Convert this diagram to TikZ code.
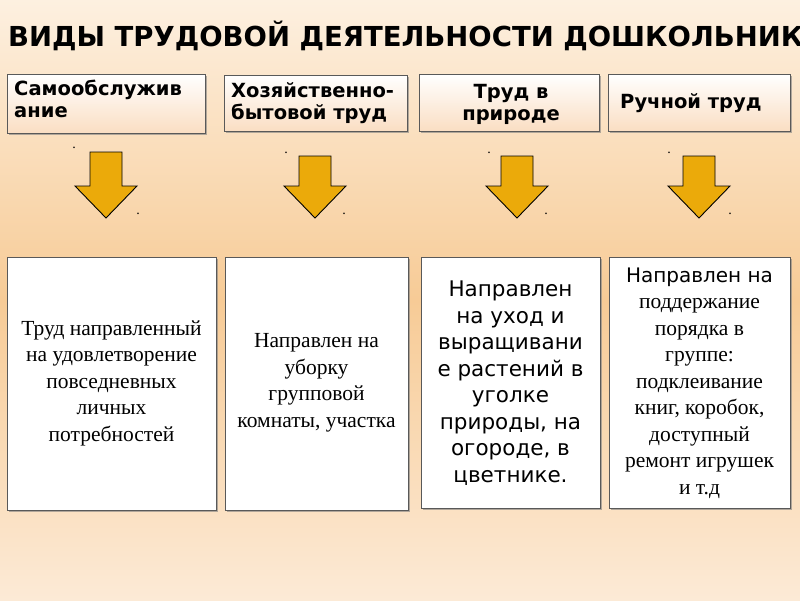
\documentclass[tikz,border=0pt]{standalone}
\usepackage{fontspec}
\setmainfont{Liberation Serif}
\newfontfamily\dvs{DejaVu Sans}
\usetikzlibrary{shadows}
\definecolor{arrowfill}{RGB}{235,170,10}
\tikzset{
 topbox/.style={draw=gray!70!black, line width=0.8pt, top color=white, bottom color={rgb,255:red,250;green,222;blue,195}, drop shadow={shadow xshift=2pt,shadow yshift=-2pt,opacity=0.6}},
 botbox/.style={draw=gray!70!black, line width=0.8pt, fill=white, drop shadow={shadow xshift=2pt,shadow yshift=-2pt,opacity=0.6}},
 toptxt/.style={font=\dvs\bfseries\fontsize{19.5}{22}\selectfont, align=left, anchor=north west, inner sep=0pt},
 bottxt/.style={font=\fontsize{21.5}{26.5}\selectfont, align=center, inner sep=0pt},
 dot/.style={font=\fontsize{14}{14}\selectfont, inner sep=0pt},
 darr/.style={draw=black, line width=0.9pt, fill=arrowfill}
}
\begin{document}
\begin{tikzpicture}[x=1pt,y=-1pt]
\clip (0,0) rectangle (800,600);
\shade[top color={rgb,255:red,253;green,240;blue,224}, bottom color={rgb,255:red,247;green,203;blue,150}] (0,0) rectangle (800,300);
\shade[top color={rgb,255:red,247;green,203;blue,150}, bottom color={rgb,255:red,252;green,234;blue,214}] (0,300) rectangle (800,600);
\node[anchor=west, font=\dvs\bfseries\fontsize{27.5}{30}\selectfont, inner sep=0pt] (title) at (8,36) {ВИДЫ ТРУДОВОЙ ДЕЯТЕЛЬНОСТИ ДОШКОЛЬНИКОВ};
% top boxes
\path[topbox] (7,74) rectangle (205,133);
\path[topbox] (224,75) rectangle (407,131);
\path[topbox] (419,74) rectangle (599,131);
\path[topbox] (608,74) rectangle (790,131);
\node[toptxt] (t1) at (14,80) {Самообслужив\\ание};
\node[toptxt] (t2) at (231,82) {Хозяйственно-\\бытовой труд};
\node[toptxt, align=center, anchor=north] (t3) at (511,84) {Труд в\\природе};
\node[toptxt, anchor=west] (t4) at (620,103) {Ручной труд};
% arrows
\foreach \cx/\ty/\n in {106/152/a1, 315/156/a2, 517/156/a3, 699/156/a4}{
  \draw[darr] (\cx-16,\ty) -- (\cx+16,\ty) -- (\cx+16,186) -- (\cx+31,186) -- (\cx,218) -- (\cx-31,186) -- (\cx-16,186) -- cycle;
}
\node[dot] (d1) at (74,148) {.};
\node[dot] (e1) at (138,214) {.};
\node[dot] (d2) at (286,153) {.};
\node[dot] (e2) at (344,214) {.};
\node[dot] (d3) at (489,153) {.};
\node[dot] (e3) at (546,214) {.};
\node[dot] (d4) at (669,153) {.};
\node[dot] (e4) at (730,214) {.};
% bottom boxes
\path[botbox] (7,257) rectangle (216,510);
\path[botbox] (225,257) rectangle (408,510);
\path[botbox] (421,257) rectangle (600,508);
\path[botbox] (609,257) rectangle (790,508);
\node[bottxt] (b1) at (111.5,383) {Труд направленный\\на удовлетворение\\повседневных\\личных\\потребностей};
\node[bottxt] (b2) at (316.5,383) {Направлен на\\уборку\\групповой\\комнаты, участка};
\node[bottxt, font=\dvs\fontsize{21.5}{26.5}\selectfont] (b3) at (510.5,383) {Направлен\\на уход и\\выращивани\\е растений в\\уголке\\природы, на\\огороде, в\\цветнике.};
\node[bottxt] (b4) at (699.5,383) {{\dvs\fontsize{20}{26.5}\selectfont Направлен на}\\поддержание\\порядка в\\группе:\\подклеивание\\книг, коробок,\\доступный\\ремонт игрушек\\и т.д};
\end{tikzpicture}
\end{document}
